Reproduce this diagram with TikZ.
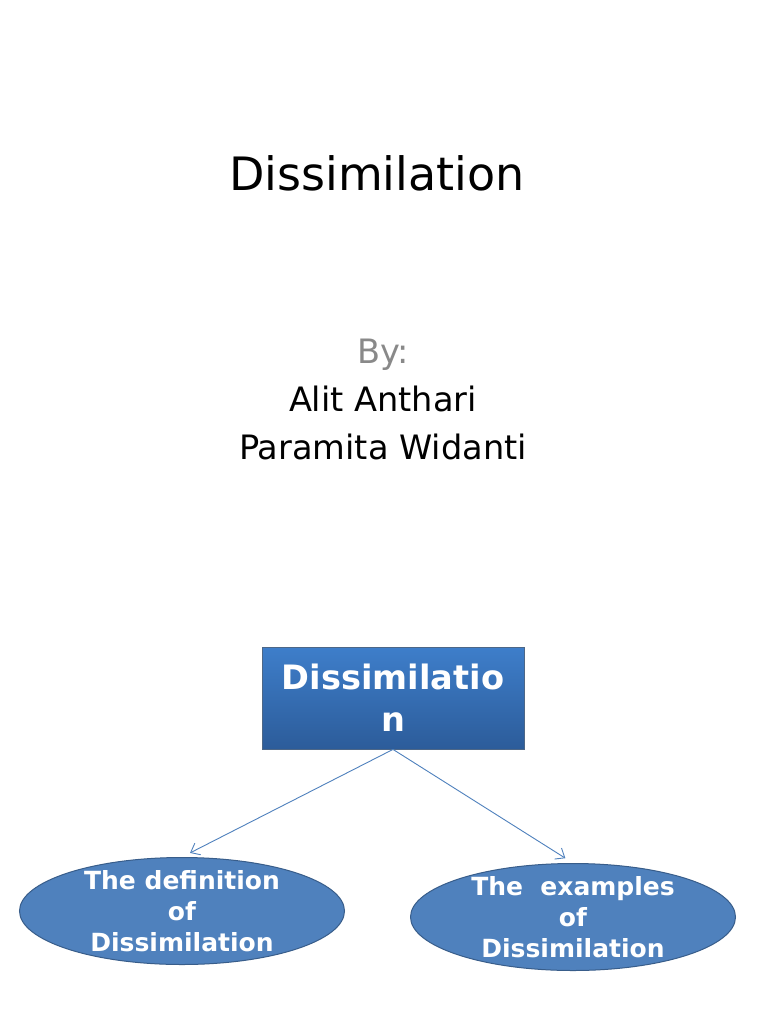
\documentclass[tikz,border=0pt]{standalone}
\usepackage{fontspec}
\setmainfont{DejaVu Sans}
\usetikzlibrary{shapes.geometric,arrows.meta}
\definecolor{ellblue}{RGB}{79,129,189}
\definecolor{ellline}{RGB}{56,93,138}
\definecolor{boxtop}{RGB}{62,126,202}
\definecolor{boxbottom}{RGB}{44,92,154}
\definecolor{bygray}{RGB}{137,137,137}
\tikzset{
  topic/.style={rectangle, draw=ellline!70!gray, line width=0.8pt, top color=boxtop, bottom color=boxbottom,
    text=white, align=center, minimum width=262, minimum height=102, inner sep=0,
    font=\bfseries\fontsize{33.6}{42}\selectfont},
  subtopic/.style={ellipse, draw=ellline, line width=1pt, fill=ellblue,
    minimum width=325, minimum height=107, inner sep=0},
  subtext/.style={text=white, align=center, inner sep=0, font=\bfseries\fontsize{25}{31}\selectfont},
  link/.style={draw=ellblue, line width=0.9pt, -{Straight Barb[length=8pt,width=13pt]}}
}
\begin{document}
\begin{tikzpicture}[x=1pt, y=-1pt]
  \useasboundingbox[fill=white] (0,0) rectangle (768,1024);
  \node (title) at (377,173) {\fontsize{46}{55}\selectfont Dissimilation};
  \node[align=center, font=\fontsize{33.6}{48}\selectfont] (authors) at (383,399)
    {\textcolor{bygray}{By:}\\ Alit Anthari\\ Paramita Widanti};

  \node[topic] (topic) at (393,698) {Dissimilatio\\ n};
  \node[subtopic] (definition) at (182,911) {};
  \node[subtext] (definitiontext) at (definition.center) {The definition\\ of\\ Dissimilation};
  \node[subtopic] (examples) at (573,917) {};
  \node[subtext] (examplestext) at (examples.center) {The~~examples\\ of\\ Dissimilation};

  \draw[link, shorten >=9pt] (topic.south) -- (definition.north);
  \draw[link, shorten >=9pt] (topic.south) -- (examples.north);
\end{tikzpicture}
\end{document}
